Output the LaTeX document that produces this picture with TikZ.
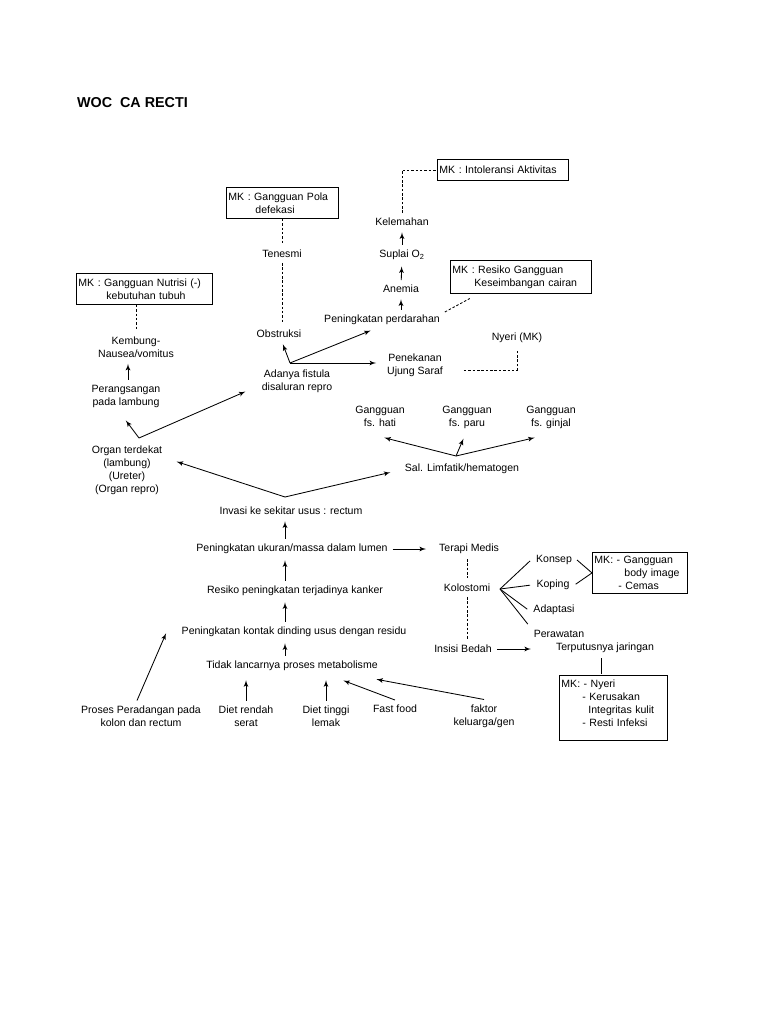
\documentclass[tikz,border=0pt]{standalone}
\usepackage{fontspec}
\setmainfont{Liberation Sans}
\usetikzlibrary{arrows}

\begin{document}
\begin{tikzpicture}[-,>=latex',shorten >=1pt,x=0.025cm,y=-0.025cm,semithick]
  \tikzstyle{every node}=[font=\fontsize{7.5}{9.25}\selectfont,align=center]
  \tikzstyle{mk box}=[draw,align=left,anchor=north west,inner xsep=0.05cm,inner ysep=0pt]
  \tikzstyle{dashline}=[dash pattern=on 1.8pt off 1.3pt]

  \path[use as bounding box] (0,0) rectangle (768,1024);

  \node (title) [anchor=west,font=\fontsize{10.2}{12}\selectfont\bfseries] at (72,103) {WOC~~CA RECTI};

  % kotak MK
  \node (mkintol)   [mk box,text width=3.175cm,minimum height=0.525cm] at (437,159) {MK : Intoleransi Aktivitas};
  \node (mkpola)    [mk box,text width=2.7cm,minimum height=0.775cm] at (226,187) {MK : Gangguan Pola\\\hspace*{0.675cm}defekasi};
  \node (mknutrisi) [mk box,text width=3.3cm,minimum height=0.775cm] at (76,273) {MK : Gangguan Nutrisi (-)\\\hspace*{0.7cm}kebutuhan tubuh};
  \node (mkresiko)  [mk box,text width=3.425cm,minimum height=0.825cm] at (450,260) {MK : Resiko Gangguan\\\hspace*{0.55cm}Keseimbangan cairan};
  \node (mkbody)    [mk box,text width=2.275cm,minimum height=1.025cm] at (592,552) {MK: - Gangguan\\\hspace*{0.75cm}body image\\\hspace*{0.6cm}- Cemas};
  \node (mknyeri)   [mk box,text width=2.6cm,minimum height=1.625cm] at (559,675) {MK: - Nyeri\\\hspace*{0.525cm}- Kerusakan\\\hspace*{0.675cm}Integritas kulit\\\hspace*{0.525cm}- Resti Infeksi\\[-2pt]\mbox{}};

  % teks
  \node (kelemahan)  at (402,222) {Kelemahan};
  \node (suplai)     at (402,255) {Suplai O\textsubscript{2}};
  \node (anemia)     at (401,289) {Anemia};
  \node (perdarahan) at (382,320) {Peningkatan perdarahan};
  \node (tenesmi)    at (282,254) {Tenesmi};
  \node (obstruksi)  at (279,334) {Obstruksi};
  \node (kembung)    at (136,347) {Kembung-\\Nausea/vomitus};
  \node (perang)     at (126,396) {Perangsangan\\pada lambung};
  \node (fistula)    at (297,381) {Adanya fistula\\disaluran repro};
  \node (penekanan)  at (415,365) {Penekanan\\Ujung Saraf};
  \node (nyeri)      at (517,338) {Nyeri (MK)};
  \node (hati)       at (380,417) {Gangguan\\fs. hati\vphantom{g}};
  \node (paru)       at (467,417) {Gangguan\\fs. paru};
  \node (ginjal)     at (551,417) {Gangguan\\fs. ginjal};
  \node (sal)        at (462,469) {Sal. Limfatik/hematogen};
  \node (organ)      at (127,470) {Organ terdekat\\(lambung)\\(Ureter)\\(Organ repro)};
  \node (invasi)     at (291,511) {Invasi ke sekitar usus : rectum};
  \node (ukuran)     at (292,549) {Peningkatan ukuran/massa dalam lumen};
  \node (terapi)     at (469,549) {Terapi Medis};
  \node (resiko)     at (295,591) {Resiko peningkatan terjadinya kanker};
  \node (kolostomi)  at (467,588) {Kolostomi};
  \node (konsep)     at (554,560) {Konsep};
  \node (koping)     at (553,585) {Koping};
  \node (adaptasi)   at (554,610) {Adaptasi};
  \node (perawatan)  at (559,634) {Perawatan};
  \node (kontak)     at (294,632) {Peningkatan kontak dinding usus dengan residu};
  \node (insisi)     at (463,649) {Insisi Bedah};
  \node (terputus)   at (605,648) {Terputusnya jaringan};
  \node (tidak)      at (292,666) {Tidak lancarnya proses metabolisme};
  \node (proses)     at (141,716) {Proses Peradangan pada\\kolon dan rectum};
  \node (rendah)     at (246,716) {Diet rendah\\serat};
  \node (tinggi)     at (326,716) {Diet tinggi\\lemak};
  \node (fastfood)   at (395,709) {Fast food};
  \node (faktor)     at (484,716) {faktor\\keluarga/gen};

  % titik cabang
  \coordinate (fistfan)  at (290,363);
  \coordinate (organfan) at (139,438);
  \coordinate (invfan)   at (285,497);
  \coordinate (salfan)   at (456,456);
  \coordinate (kolofan)  at (500,589);

  % bagian atas
  \draw[dashline] (kelemahan.north) |- (mkintol.west);
  \draw[->] (suplai) -- (kelemahan);
  \draw[->] (anemia) -- (suplai);
  \draw[->] (perdarahan.north -| anemia) -- (anemia.south);
  \draw[dashline] ([yshift=0.2cm]perdarahan.east) -- ([xshift=0.525cm,yshift=-0.1cm]mkresiko.south west);
  \draw[dashline] (mkpola.south -| tenesmi) -- (tenesmi);
  \draw[dashline] (tenesmi) -- (tenesmi |- obstruksi.north);
  \draw[dashline] (mknutrisi.south -| kembung) -- (kembung);
  \draw[->] ([xshift=0.05cm]perang.north) -- ([xshift=0.05cm]perang.north |- kembung.south);
  \draw[->] (fistfan) -- (obstruksi);
  \draw[->] (fistfan) -- ([xshift=-0.25cm]perdarahan.south);
  \draw[->,shorten >=0.15cm] (fistfan) -- (fistfan -| penekanan.west);
  \draw[dashline] ([xshift=0.4cm,yshift=-0.125cm]penekanan.east) -| (nyeri);
  \draw[->] (organfan) -- ([xshift=-0.025cm,yshift=-0.175cm]perang.south);
  \draw[->] (organfan) -- ([xshift=-0.25cm,yshift=-0.25cm]fistula.west);

  % penyebaran
  \draw[->] (invfan) -- ([xshift=0.2cm,yshift=0.22cm]organ.east);
  \draw[->] (invfan) -- ([xshift=-0.2cm,yshift=-0.075cm]sal.west);
  \draw[->] (salfan) -- ([xshift=0.075cm,yshift=-0.1cm]hati.south);
  \draw[->] (salfan) -- ([xshift=-0.075cm,yshift=-0.1cm]paru.south);
  \draw[->] (salfan) -- ([xshift=-0.375cm,yshift=-0.1cm]ginjal.south);

  % kolom utama
  \draw[->] (ukuran.north -| invfan) -- (invasi.south -| invfan);
  \draw[->] (resiko.north -| invfan) -- (ukuran.south -| invfan);
  \draw[->] (kontak.north -| invfan) -- (resiko.south -| invfan);
  \draw[->] (tidak.north -| invfan) -- (kontak.south -| invfan);
  \draw[->,shorten >=0.2cm] (ukuran) -- (terapi);

  % terapi
  \draw[dashline] (terapi.south -| kolostomi) -- (kolostomi);
  \draw[dashline] (kolostomi) -- (kolostomi |- insisi.north);
  \draw (kolofan) -- (konsep.west);
  \draw (kolofan) -- (koping.west);
  \draw (kolofan) -- (adaptasi.west);
  \draw (kolofan) -- (perawatan.north west);
  \draw (konsep.east) -- (mkbody.west) -- (koping.east);
  \draw[->,shorten >=0.5cm] (insisi.east) -- (insisi.east -| terputus.west);
  \draw ([xshift=-0.1cm]terputus.south) -- ([xshift=-0.1cm]terputus.south |- mknyeri.north);

  % penyebab
  \draw[->,shorten >=3pt] (rendah) -- (rendah |- tidak.south);
  \draw[->,shorten >=3pt] (tinggi) -- (tinggi |- tidak.south);
  \draw[->] (fastfood.north) -- ([xshift=1.25cm,yshift=-0.1cm]tidak.south);
  \draw[->] (faktor.north) -- ([xshift=2.075cm,yshift=-0.075cm]tidak.south);
  \draw[->] ([xshift=-0.1cm]proses.north) -- ([xshift=-0.25cm]kontak.west);
\end{tikzpicture}
\end{document}
